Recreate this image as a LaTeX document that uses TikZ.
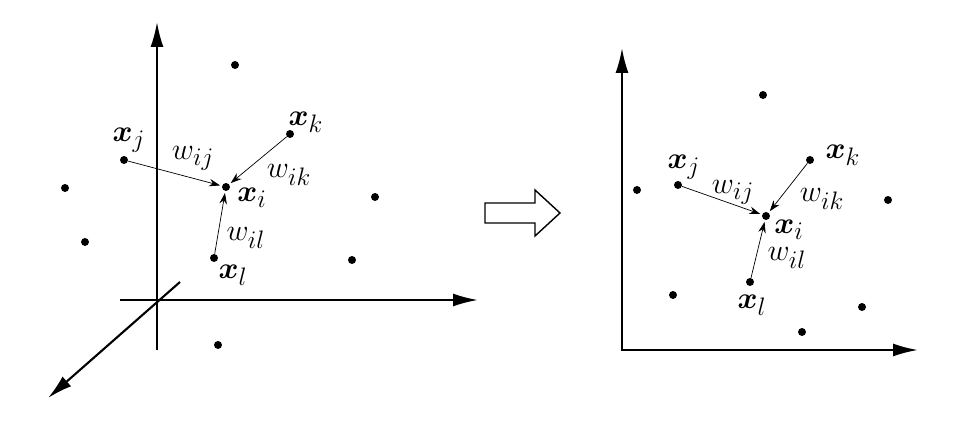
\documentclass[tikz,border=0pt]{standalone}
\usepackage{amsmath,bm}
\usetikzlibrary{arrows.meta}
\begin{document}
\begin{tikzpicture}[x=0.02cm,y=-0.02cm,
  ax/.style={line width=1.2pt,-{Latex[length=5mm,width=2.6mm]}},
  pt/.style={circle,fill,inner sep=1.6pt},
  lk/.style={thin,-{Stealth[length=2.2mm,width=1.5mm]},shorten >=1pt},
  lb/.style={font=\fontsize{19}{22}\selectfont,inner sep=0pt}]
\useasboundingbox (0,0) rectangle (965,425);
% left
\draw[ax] (157,350) -- (157,22);
\draw[ax] (120,300) -- (478,300);
\draw[ax] (180,282) -- (48,398);
\foreach \p/\n in {{235,65}/a1,{65,188}/a2,{85,242}/a3,{375,197}/a4,{352,260}/a5,{218,345}/a6}
  \node[pt] (\n) at (\p) {};
\node[pt] (lj) at (124,160) {};
\node[pt] (lk) at (290,134) {};
\node[pt] (li) at (226,187) {};
\node[pt] (ll) at (214,258) {};
\draw[lk] (lj) -- (li); \draw[lk] (lk) -- (li); \draw[lk] (ll) -- (li);
\node[lb] (t1) at (129,140) {$\bm{x}_j$};
\node[lb] (t2) at (306,122) {$\bm{x}_k$};
\node[lb] (t3) at (252,198) {$\bm{x}_i$};
\node[lb] (t4) at (233,275) {$\bm{x}_l$};
\node[lb] (t5) at (193,158) {$w_{ij}$};
\node[lb] (t6) at (289,175) {$w_{ik}$};
\node[lb] (t7) at (246,238) {$w_{il}$};
% middle
\draw[line width=0.8pt] (485,203) -- (535,203) -- (535,190) -- (560,213) -- (535,236) -- (535,223) -- (485,223) -- cycle;
% right
\draw[ax] (622,350) -- (622,48);
\draw[ax] (621,350) -- (918,350);
\foreach \p/\n in {{763,95}/b1,{637,190}/b2,{888,200}/b3,{673,295}/b4,{862,307}/b5,{802,332}/b6}
  \node[pt] (\n) at (\p) {};
\node[pt] (rj) at (678,185) {};
\node[pt] (rk) at (810,160) {};
\node[pt] (ri) at (766,216) {};
\node[pt] (rl) at (750,282) {};
\draw[lk] (rj) -- (ri); \draw[lk] (rk) -- (ri); \draw[lk] (rl) -- (ri);
\node[lb] (s1) at (684,167) {$\bm{x}_j$};
\node[lb] (s2) at (843,155) {$\bm{x}_k$};
\node[lb] (s3) at (789,230) {$\bm{x}_i$};
\node[lb] (s4) at (752,305) {$\bm{x}_l$};
\node[lb] (s5) at (733,192) {$w_{ij}$};
\node[lb] (s6) at (822,199) {$w_{ik}$};
\node[lb] (s7) at (787,258) {$w_{il}$};
\end{tikzpicture}
\end{document}
